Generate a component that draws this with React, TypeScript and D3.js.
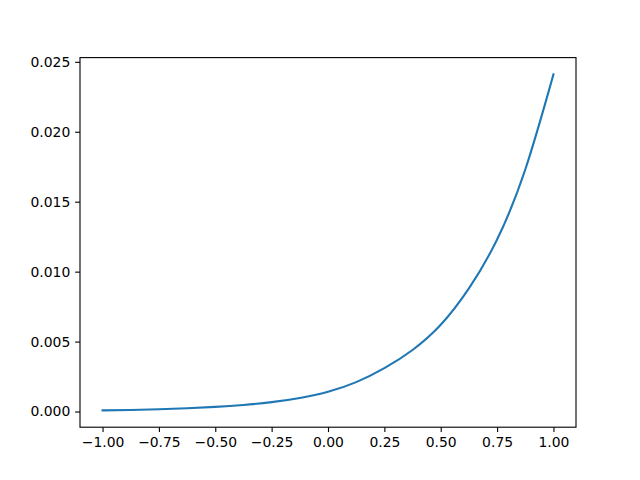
import React, {useEffect, useRef} from "react";
import * as d3 from "d3";

// values
const xValues = [-1, -0.875, -0.75, -0.625, -0.5, -0.375, -0.25, -0.125, 0, 0.125, 0.25, 0.375, 0.5, 0.625, 0.75, 0.875, 1];
const yValues = [
	0.00008, 0.00011, 0.00016, 0.00023, 0.00033, 0.00047, 0.00067, 0.00097, 0.00141, 0.0021, 0.0031, 0.0044, 0.0062,
	0.0088, 0.0123, 0.0173, 0.0241,
];
const xTicks = [-1, -0.75, -0.5, -0.25, 0, 0.25, 0.5, 0.75, 1];
const yTicks = [0, 0.005, 0.01, 0.015, 0.02, 0.025];

const WIDTH = 640;
const HEIGHT = 480;

const fmtMinus = (s: string) => s.replace("-", "\u2212");

const App: React.FC = () => {
	const svgRef = useRef<SVGSVGElement>(null);

	useEffect(() => {
		const svg = d3.select(svgRef.current);
		svg.selectAll("*").remove();

		const margin = {top: 57.6, right: 64, bottom: 52.8, left: 80};
		const w = WIDTH - margin.left - margin.right;
		const h = HEIGHT - margin.top - margin.bottom;

		const g = svg.append("g").attr("transform", `translate(${margin.left}, ${margin.top})`);

		// matplotlib-style 5% autoscale margins
		const [x0, x1] = d3.extent(xValues) as [number, number];
		const [y0, y1] = d3.extent(yValues) as [number, number];
		const xPad = (x1 - x0) * 0.05;
		const yPad = (y1 - y0) * 0.05;

		const xScale = d3.scaleLinear().domain([x0 - xPad, x1 + xPad]).range([0, w]);
		const yScale = d3.scaleLinear().domain([y0 - yPad, y1 + yPad]).range([h, 0]);

		const data = xValues.map((x, i) => ({x, y: yValues[i]}));

		const line = d3
			.line<{x: number; y: number}>()
			.x((d) => xScale(d.x))
			.y((d) => yScale(d.y))
			.curve(d3.curveNatural);

		g.append("path")
			.datum(data)
			.attr("fill", "none")
			.attr("stroke", "#1f77b4")
			.attr("stroke-width", 2.08)
			.attr("stroke-linecap", "square")
			.attr("d", line);

		const xAxis = g
			.append("g")
			.attr("transform", `translate(0, ${h})`)
			.call(
				d3
					.axisBottom(xScale)
					.tickValues(xTicks)
					.tickSize(4.86)
					.tickPadding(4.86)
					.tickFormat((d) => fmtMinus(d3.format(".2f")(d as number)))
			);

		const yAxis = g.append("g").call(
			d3
				.axisLeft(yScale)
				.tickValues(yTicks)
				.tickSize(4.86)
				.tickPadding(4.86)
				.tickFormat((d) => d3.format(".3f")(d as number))
		);

		[xAxis, yAxis].forEach((ax) => {
			ax.select(".domain").remove();
			ax.selectAll("line").attr("stroke", "#000").attr("stroke-width", 1.11);
			ax.selectAll("text")
				.attr("fill", "#000")
				.style("font-family", "DejaVu Sans")
				.style("font-size", "13.9px");
		});

		// frame
		g.append("rect")
			.attr("width", w)
			.attr("height", h)
			.attr("fill", "none")
			.attr("stroke", "#000")
			.attr("stroke-width", 1.11);
	}, []);

	return (
		<svg
			ref={svgRef}
			width={WIDTH}
			height={HEIGHT}
			style={{position: "absolute", left: 0, top: 0, background: "#fff"}}
		/>
	);
};

export default App;
